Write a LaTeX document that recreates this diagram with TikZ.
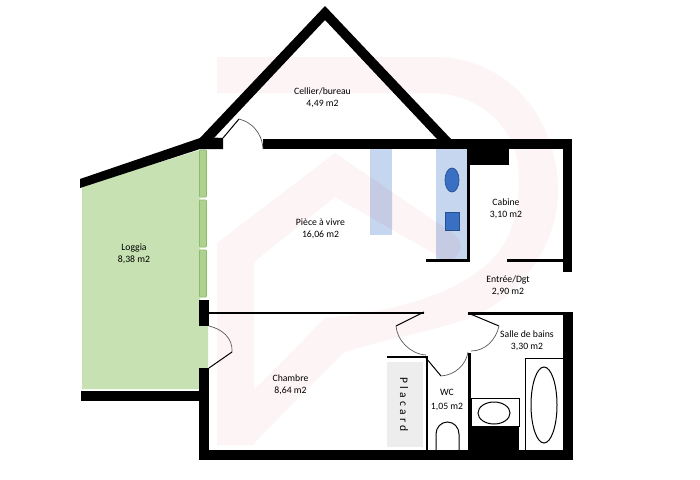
\documentclass[tikz,border=0pt]{standalone}
\usepackage{fontspec}
\setmainfont{Carlito}
\definecolor{wm}{HTML}{FDF4F6}
\definecolor{wmover}{HTML}{C5CBE3}
\definecolor{loggia}{HTML}{C7E1B2}
\definecolor{panel}{HTML}{ADD28F}
\definecolor{panelb}{HTML}{8DBB6C}
\definecolor{bluezone}{HTML}{C5D6EE}
\definecolor{bluefix}{HTML}{3A70C4}
\definecolor{bluefixb}{HTML}{24508F}
\definecolor{placardc}{HTML}{EDEDED}
\newcommand{\logoshape}[1]{%
  \fill[#1] (217,57) -- (440,57) .. controls (520,62) and (558,130) .. (558,190)
     .. controls (558,250) and (515,300) .. (470,318) .. controls (430,332) and (380,340) .. (343,353)
     -- (257,440) -- (254,445) -- (217,445) -- (217,243) -- (335,153) -- (455,235)
     .. controls (465,245) and (462,258) .. (445,262) -- (433,253) -- (335,197) -- (254,262) -- (254,390) -- (325,318)
     .. controls (400,312) and (470,290) .. (500,250) .. controls (518,225) and (522,190) .. (517,157)
     .. controls (505,115) and (470,93) .. (430,93) -- (217,93) -- cycle;}
\tikzset{
  wall/.style={fill=black,draw=none},
  leaf/.style={draw=black,line width=1pt},
  swing/.style={draw=black!65,line width=.7pt},
  fixture/.style={draw=black,line width=1pt},
  room/.style={font=\fontsize{9.7}{12}\selectfont,align=center,text=black},
}
\begin{document}
\begin{tikzpicture}[x=1pt,y=-1pt]
\useasboundingbox (0,0) rectangle (700,479);
\fill[white] (0,0) rectangle (700,479);
% watermark
\logoshape{wm}
% loggia
\fill[loggia] (82,186) -- (200,150) -- (200,326) -- (208,326) -- (208,368) -- (199,368) -- (199,389) -- (82,389) -- cycle;
\foreach \a/\b in {150/197,200/247,250/297}
  \draw[fill=panel,draw=panelb,line width=.6pt,rounded corners=.8pt] (199.5,\a) rectangle (206.5,\b);
% blue zones
\fill[bluezone] (370,149) rectangle (392,235);
\fill[bluezone] (436,149) rectangle (467,259);
\begin{scope}
  \clip (370,149) rectangle (392,235) (436,149) rectangle (467,259);
  \logoshape{wmover}
\end{scope}
\draw[fill=bluefix,draw=bluefixb,line width=.7pt] (452,180) ellipse [x radius=7,y radius=12];
\draw[fill=bluefix,draw=bluefixb,line width=.7pt] (445,212) rectangle (459,230);
% placard
\fill[placardc] (387,362) rectangle (423,447);
% walls
\fill[wall] (325,6) -- (451,139) -- (437,139) -- (325,20) -- (213,139) -- (199,139) -- cycle;
\fill[wall] (80,179) -- (203,137) -- (223,138) -- (223,149) -- (200,149) -- (80,188) -- cycle;
\fill[wall] (263,139) rectangle (572,149);
\fill[wall] (563,139) rectangle (572,272);
\fill[wall] (470,149) rectangle (509,165);
\fill[wall] (467,149) rectangle (470,262);
\fill[wall] (426,259) rectangle (470,262);
\fill[wall] (507,259) rectangle (563,262);
\fill[wall] (199,300) rectangle (209,326);
\fill[wall] (209,311.5) rectangle (424,314);
\fill[wall] (468,311.5) rectangle (573,314.5);
\fill[wall] (563,311.5) rectangle (573,460);
\fill[wall] (199,368) rectangle (209,460);
\fill[wall] (81,391) rectangle (199,401);
\fill[wall] (199,450) rectangle (573,460);
\fill[wall] (387,355.5) rectangle (428,358);
\fill[wall] (425.5,355.5) rectangle (428,450);
\fill[wall] (468,353) rectangle (471,450);
\fill[wall] (471,426) rectangle (519,450);
% doors
\draw[leaf] (223,138) -- (239,119);
\draw[swing] (239,119) .. controls (251,122) and (262,132) .. (263,149);
\draw[leaf] (209,368) -- (232,352);
\draw[swing] (209,326) .. controls (222,329) and (233,338) .. (232,352);
\draw[leaf] (424,312) -- (396,326);
\draw[swing] (396,326) .. controls (397,340) and (410,354) .. (426,355);
\draw[leaf] (426,358) -- (441,376);
\draw[swing] (441,376) .. controls (455,375) and (466,365) .. (468,352);
\draw[leaf] (468,313) -- (499,326);
\draw[swing] (499,326) .. controls (496,340) and (485,351) .. (471,351);
% fixtures
\draw[fixture] (471,398) rectangle (519,426);
\draw[fixture] (494,413) ellipse [x radius=16,y radius=11];
\draw[fixture] (525,358) rectangle (563,450);
\draw[fixture] (544,405) ellipse [x radius=13,y radius=38];
\draw[fixture] (436,450) -- (436,434) arc[start angle=180,end angle=0,x radius=11.5,y radius=-12] -- (459,450);
% labels
\node[room] (cellier) at (322.5,98) {Cellier/bureau\\4,49 m2};
\node[room] (piece) at (320.5,228.5) {Pièce à vivre\\16,06 m2};
\node[room] (cabine) at (506,209) {Cabine\\3,10 m2};
\node[room] (entree) at (508,286) {Entrée/Dgt\\2,90 m2};
\node[room] (loggial) at (134,254) {Loggia\\8,38 m2};
\node[room] (sdb) at (527,341) {Salle de bains\\3,30 m2};
\node[room] (chambre) at (290.5,385) {Chambre\\8,64 m2};
\node[room,font=\fontsize{9.7}{14}\selectfont] (wc) at (447,400) {WC\\1,05 m2};
\node[font=\fontsize{11.5}{13}\selectfont,rotate=-90,text=black] (placard) at (404,404.5) {P\hspace{3.3pt}l\hspace{3.3pt}a\hspace{3.3pt}c\hspace{3.3pt}a\hspace{3.3pt}r\hspace{3.3pt}d};
\end{tikzpicture}
\end{document}
